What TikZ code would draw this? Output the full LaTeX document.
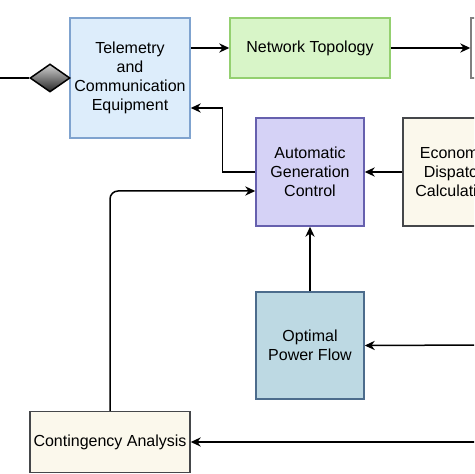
\documentclass[tikz,border=0pt]{standalone}
\usepackage{fontspec}
\setmainfont{Liberation Sans}
\usetikzlibrary{arrows.meta,shapes.geometric}

\definecolor{teleFill}{HTML}{DDEDFB}
\definecolor{teleLine}{HTML}{7FA3CF}
\definecolor{topoFill}{HTML}{D8F5C8}
\definecolor{topoLine}{HTML}{94D070}
\definecolor{agcFill}{HTML}{D5D2F6}
\definecolor{agcLine}{HTML}{6660AE}
\definecolor{opfFill}{HTML}{BDD9E3}
\definecolor{opfLine}{HTML}{4C6C8C}
\definecolor{calcFill}{HTML}{FBF8EC}
\definecolor{calcLine}{HTML}{45474A}

\begin{document}
\begin{tikzpicture}[x=0.5pt,y=-0.5pt,
    box/.style={draw, line width=0.75pt, align=center, inner sep=1pt,
      font=\fontsize{8}{9.4}\selectfont},
    flow/.style={draw, line width=0.75pt, -{Stealth[length=5pt,width=4.6pt]}},
    wire/.style={draw, line width=0.75pt}]
  \useasboundingbox[clip] (0,0) rectangle (474,474);
  \fill[white] (0,0) rectangle (474,474);
  % blocks
  \node[box, fill=teleFill, draw=teleLine, minimum width=60pt, minimum height=60pt]
    (tele) at (130,78) {Telemetry\\and\\Communication\\Equipment};
  \node[diamond, draw=black, line width=0.75pt, top color=gray!35, bottom color=black!85,
    minimum width=20pt, minimum height=14pt, inner sep=0pt, aspect=1.43]
    (gate) at (50,78) {};
  \node[box, fill=topoFill, draw=topoLine, minimum width=80pt, minimum height=30pt]
    (topo) at (310,48) {Network Topology};
  \node[box, fill=white, draw=gray, minimum width=80pt, minimum height=30pt]
    (state) at (551,48) {};
  \node[box, fill=agcFill, draw=agcLine, minimum width=54pt, minimum height=54pt]
    (agc) at (310,172) {Automatic\\Generation\\Control};
  \node[box, fill=calcFill, draw=calcLine, minimum width=52pt, minimum height=54pt]
    (econ) at (455,172) {Economic\\Dispatch\\Calculation};
  \node[box, fill=opfFill, draw=opfLine, minimum width=54pt, minimum height=53.5pt]
    (opf) at (310,345.5) {Optimal\\Power Flow};
  \node[box, fill=calcFill, draw=calcLine, minimum width=80pt, minimum height=30.5pt]
    (cont) at (110,442) {Contingency Analysis};
  % free ends
  \coordinate (feed) at (-10,78);
  \coordinate (opfIn) at (484,345);
  \coordinate (contIn) at (484,442);
  % connectors
  \draw[wire] (feed) -- (gate.west);
  \draw[flow] (tele.east |- topo.west) -- (topo.west);
  \draw[flow] (topo.east) -- (state.west);
  \draw[flow] (econ.west) -- (agc.east);
  \draw[flow] (agc.west) -- ++(-33,0) |- ([yshift=-15pt]tele.east);
  \draw[flow, rounded corners=4pt] (cont.north) |- ([yshift=-9.5pt]agc.west);
  \draw[flow] (opf.north) -- (agc.south);
  \draw[flow] (opfIn) -- (opf.east);
  \draw[flow] (contIn) -- (cont.east);
\end{tikzpicture}
\end{document}
